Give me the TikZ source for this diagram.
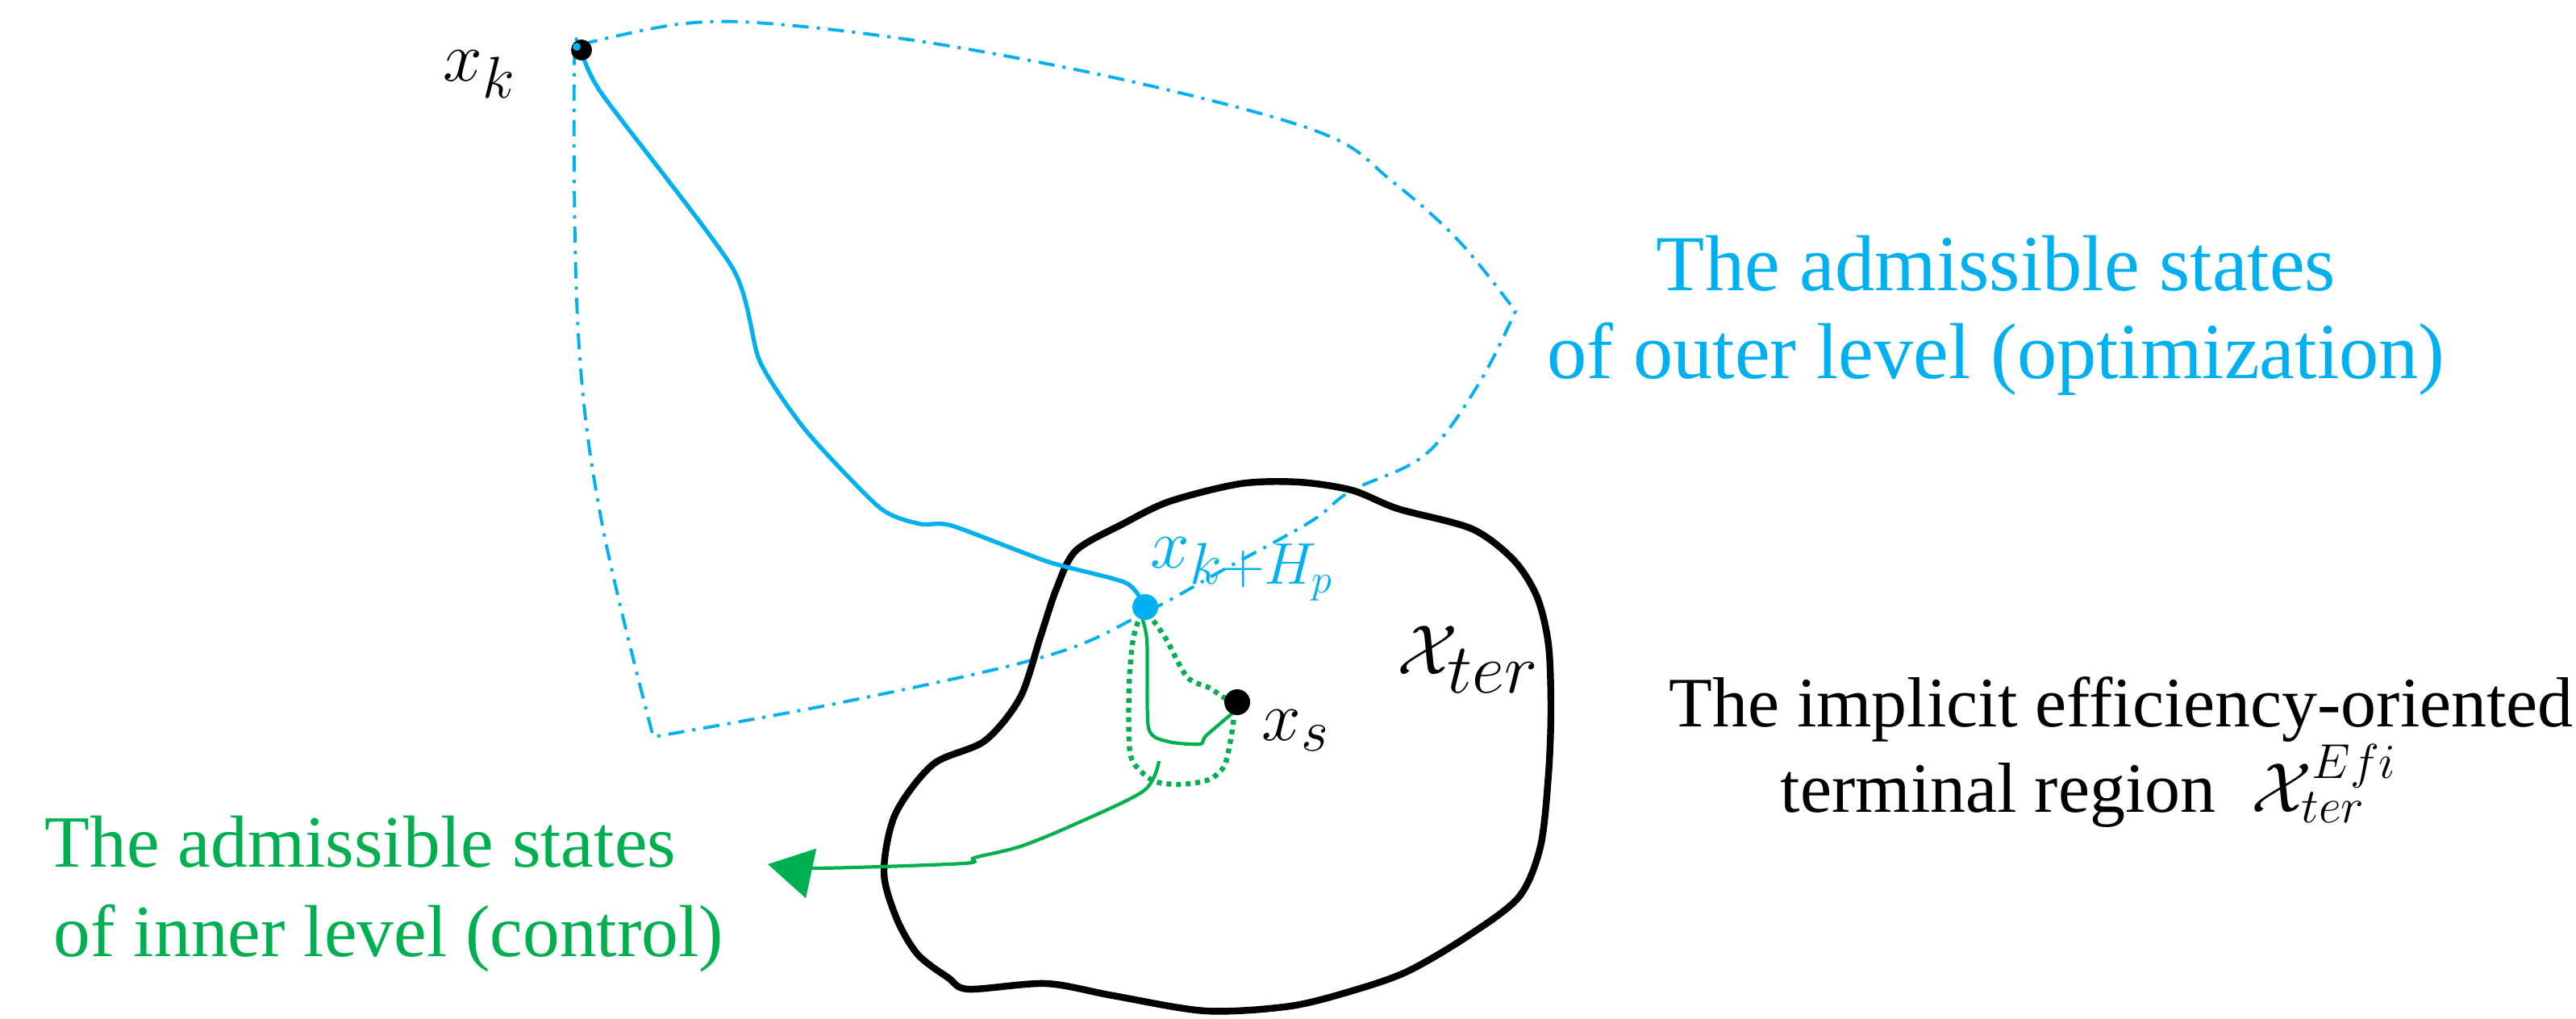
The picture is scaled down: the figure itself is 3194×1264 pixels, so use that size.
\documentclass[tikz,border=0pt]{standalone}
\usepackage{fontspec}
\setmainfont{Liberation Serif}
\usetikzlibrary{arrows.meta}
\definecolor{myblue}{HTML}{00B0F0}
\definecolor{mygreen}{HTML}{00B050}
\begin{document}
\begin{tikzpicture}[x=0.01cm,y=-0.01cm,
  txt/.style={font=\fontsize{26}{32}\selectfont, inner sep=0pt},
  mlab/.style={font=\fontsize{28}{32}\selectfont, inner sep=0pt},
  outer/.style={myblue, line width=1.1pt, dash pattern=on 5.7pt off 2.85pt on 1.14pt off 2.85pt},
  traj/.style={myblue, line width=1.5pt},
  gtraj/.style={mygreen, line width=1.2pt},
  gdot/.style={mygreen, line width=1.8pt, dash pattern=on 1.7pt off 1.7pt},
  blob/.style={black, line width=2.4pt, line join=round}]
\useasboundingbox (0,0) rectangle (3194,1264);
\coordinate (xk) at (721,62);
\coordinate (xh) at (1420,753);
\coordinate (xs) at (1534,871);
% outer admissible region
\draw[outer] plot[smooth,tension=0.6] coordinates {(721,55) (850,29) (975,31) (1183,58) (1433,108) (1641,166) (1725,224) (1808,298) (1879,386)}
  -- plot[smooth,tension=0.6] coordinates {(1879,386) (1833,477) (1767,564) (1675,609) (1625,647) (1520,705) (1420,760) (1300,813) (1050,870) (810,914)}
  -- plot[smooth,tension=0.6] coordinates {(810,914) (746,647) (717,414) (712,83) (721,55)};
% terminal region
\draw[blob] plot[smooth cycle,tension=0.5] coordinates {(1334,683) (1392,650) (1450,622) (1538,600) (1610,598) (1676,608) (1733,631) (1825,656) (1877,695) (1906,741) (1920,800) (1923,880) (1920,960) (1910,1050) (1883,1113) (1817,1163) (1745,1205) (1680,1228) (1600,1248) (1495,1254) (1380,1235) (1297,1220) (1201,1227) (1176,1213) (1138,1184) (1112,1140) (1096,1082) (1110,1010) (1157,948) (1221,919) (1265,865) (1290,790) (1310,730)};
% outer trajectory
\draw[traj] plot[smooth,tension=0.4] coordinates {(xk) (746,116) (908,332) (942,448) (1000,535) (1091,630) (1141,650) (1180,652) (1300,697) (1396,723) (xh)};
% green dotted envelope
\draw[gdot] plot[smooth,tension=0.5] coordinates {(1415,760) (1405,793) (1400,850) (1401,933) (1415,957) (1434,970) (1465,973) (1499,967) (1518,950) (1526,917) (1530,890)};
\draw[gdot] plot[smooth,tension=0.5] coordinates {(1430,770) (1446,793) (1472,840) (1499,853) (1520,867)};
% inner trajectory
\draw[gtraj] plot[smooth,tension=0.4] coordinates {(1411,750) (1422,793) (1424,903) (1449,920) (1488,923) (1495,913) (1530,883)};
% arrow to inner label
\coordinate (ga) at (1437,944);
\coordinate (gb) at (952,1072);
\draw[gtraj,-{Triangle[length=15.6pt,width=17.6pt]}] plot[smooth,tension=0.5] coordinates {(ga) (1418,981) (1329,1024) (1265,1050) (1208,1064) (1195,1071) (1010,1077) (gb)};
% dots
\fill[black] (xk) circle (0.13cm);
\fill[myblue] (715,58) circle (0.05cm);
\fill[myblue] (xh) circle (0.16cm);
\fill[black] (xs) circle (0.16cm);
% labels
\node[mlab] (lk) at (595,92) {$x_k$};
\node[mlab,myblue] (lh) at (1541,706) {$x_{k+H_p}$};
\node[mlab] (ls) at (1607,906) {$x_s$};
\node[mlab,font=\fontsize{34}{36}\selectfont] (lt) at (1820,818) {$\mathcal{X}_{ter}$};
\node[txt,myblue,font=\fontsize{28}{32}\selectfont] (o1) at (2475,327) {The admissible states};
\node[txt,myblue,font=\fontsize{28}{32}\selectfont] (o2) at (2475,445) {of outer level (optimization)};
\node[txt,mygreen] (i1) at (447,1044) {The admissible states};
\node[txt,mygreen] (i2) at (482,1164) {of inner level (control)};
\node[txt,font=\fontsize{25}{30}\selectfont] (r1) at (2630,880) {The implicit efficiency-oriented};
\node[txt,font=\fontsize{25}{30}\selectfont] (r2) at (2590,975) {terminal region\ \ $\mathcal{X}_{ter}^{Efi}$};
\end{tikzpicture}
\end{document}
